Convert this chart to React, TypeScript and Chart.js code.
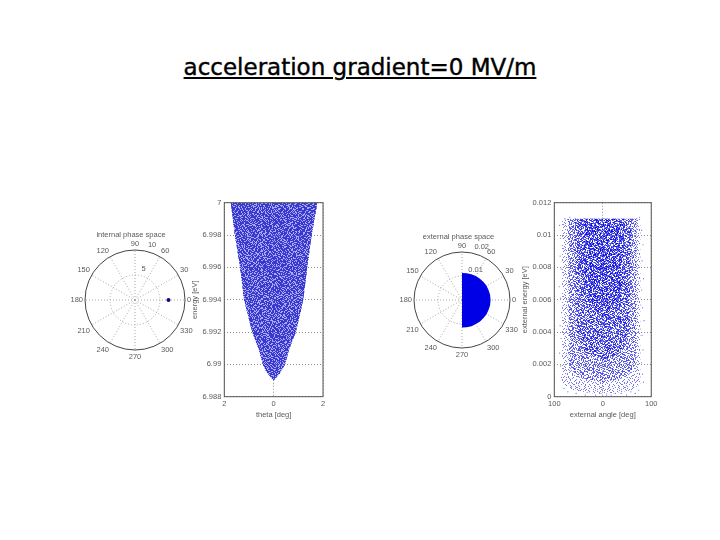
import { useEffect, useRef } from "react"
import { Chart, registerables } from "chart.js"

Chart.register(...registerables)

const FONT = "'Liberation Sans', Arial, sans-serif"

// polar plots, clockwise from the top
const internalAngles = ["90", "60", "30", "0", "330", "300", "270", "240", "210", "180", "150", "120"]
const internalEnergy = [null, null, null, 6.7, null, null, null, null, null, null, null, null]
const internalRadialTicks = [5, 10]

const externalAngles = [90, 80, 70, 60, 50, 40, 30, 20, 10, 0, 350, 340, 330, 320, 310, 300, 290, 280, 270, 260, 250, 240, 230, 220, 210, 200, 190, 180, 170, 160, 150, 140, 130, 120, 110, 100]
const externalEnergy = [0.0113, 0.0113, 0.0114, 0.0115, 0.0116, 0.0117, 0.0118, 0.0118, 0.0119, 0.0119, 0.0119, 0.0118, 0.0118, 0.0117, 0.0117, 0.0116, 0.0116, 0.0115, 0.0115, 0, 0, 0, 0, 0, 0, 0, 0, 0, 0, 0, 0, 0, 0, 0, 0, 0]
const externalRadialTicks = [0.01, 0.02]

// lower edge of the theta / energy cloud
const thetaEdge = [-1.74, -1.57, -1.36, -1.2, -0.87, -0.62, -0.44, -0.28, 0, 0.28, 0.46, 0.64, 0.9, 1.2, 1.36, 1.54, 1.77]
const energyEdge = [7, 6.998, 6.996, 6.994, 6.992, 6.991, 6.99, 6.9895, 6.989, 6.9895, 6.99, 6.991, 6.992, 6.994, 6.996, 6.998, 7]
const energyTicks = [6.988, 6.99, 6.992, 6.994, 6.996, 6.998, 7]
const energyTickLabels = ["6.988", "6.99", "6.992", "6.994", "6.996", "6.998", "7"]
const thetaTicks = [-2, 0, 2]
const thetaTickLabels = ["2", "0", "2"]

// lower edges of the density bands of the external cloud, all closed at the top
const CLOUD_TOP = 0.011
const sparseAngle = [-84, -84, -60, -20, 20, 60, 78, 78]
const sparseEnergy = [0.011, 0.0008, 0.0004, 0.0002, 0.0002, 0.0004, 0.0008, 0.011]
const thinAngle = [-72, -70, -50, 0, 50, 68, 70]
const thinEnergy = [0.011, 0.002, 0.0012, 0.0009, 0.0012, 0.002, 0.011]
const midAngle = [-58, -56, -40, 0, 40, 56, 60]
const midEnergy = [0.011, 0.0042, 0.0028, 0.0022, 0.0028, 0.0042, 0.011]
const denseAngle = [-40, -38, -20, 5, 30, 42, 44]
const denseEnergy = [0.011, 0.0072, 0.0056, 0.0046, 0.0056, 0.0072, 0.011]
// loose points just outside the bands
const strayAngle = [-89, -87, -88, -86, -90, -87, -85, -88, -86, -89, -87, -85, 80, 83, 81, 84, 80, 82, 85, 81, 83, 80, 82, 84, -80, -72, -64, -55, -47, -36, -28, -15, -6, 8, 17, 26, 38, 49, 58, 67, 74, -78, -68, 70, 76]
const strayEnergy = [0.0106, 0.0098, 0.0087, 0.0079, 0.0068, 0.0061, 0.0052, 0.0044, 0.0036, 0.0027, 0.0019, 0.0012, 0.0103, 0.0094, 0.0084, 0.0073, 0.0066, 0.0055, 0.0047, 0.0038, 0.0029, 0.0021, 0.0014, 0.0009, 0.0005, 0.0003, 0.0006, 0.0002, 0.0004, 0.0001, 0.0003, 0.0001, 0.0002, 0.0001, 0.0001, 0.0002, 0.0002, 0.0001, 0.0003, 0.0002, 0.0004, 0.011, 0.0111, 0.011, 0.0111]
const externalEnergyTicks = [0, 0.002, 0.004, 0.006, 0.008, 0.01, 0.012]
const externalEnergyLabels = ["0", "0.002", "0.004", "0.006", "0.008", "0.01", "0.012"]
const externalAngleTicks = [-100, 0, 100]
const externalAngleLabels = ["100", "0", "100"]

// stipple texture, a pixel is set when its digit is at or below the wanted density
const stippleRows = [
  "739146285037192846015372",
  "260873914562708341965028",
  "518402763981256097314860",
  "947135028674319562840713",
  "302869415720864193057246",
  "685210973346027581469302",
  "174956302818493670215984",
  "429637180560712948336157",
  "853041726993185024679310",
  "016782459331648207951543",
  "792365804176930452186027",
  "345918672042571369804216",
  "681024397568240813597749",
  "207593146819356724018635",
  "934760281405978136642081",
  "150832697341620589473926",
  "476219530867143926058314",
  "823605914782059341267590",
  "591348062136874205739168",
  "068971423950316782145083",
  "314527869204691853070642",
  "782046315698425017936251",
  "925183740362187469520837",
  "640792158473906231884175",
]

// different tile sizes on top of each other keep the repeat from showing
function stipple(density: number, color: string, w: number, h: number) {
  const tile = document.createElement("canvas")
  tile.width = w
  tile.height = h
  const g = tile.getContext("2d")!
  g.fillStyle = color
  for (let y = 0; y < h; y++) {
    for (let x = 0; x < w; x++) {
      if (Number(stippleRows[y][x]) <= density) g.fillRect(x, y, 1, 1)
    }
  }
  return g.createPattern(tile, "repeat")!
}

const tickFont = { family: FONT, size: 7.5 }
const GREY = "#5a5a5a"
const DOTS = "#8c8c8c"
const POLAR_DOTS = "#a6a6a6"

const boxPlugin = {
  id: "box",
  afterDatasetsDraw(chart: Chart) {
    const { left, top, width, height } = chart.chartArea
    const ctx = chart.ctx
    ctx.save()
    ctx.strokeStyle = "#555"
    ctx.lineWidth = 1
    ctx.strokeRect(left, top, width, height)
    ctx.restore()
  },
}

function toPoints(xs: number[], ys: number[]) {
  return xs.map((x, i) => ({ x, y: ys[i] }))
}

function cartesian(
  canvas: HTMLCanvasElement,
  datasets: any[],
  x: { min: number; max: number; ticks: number[]; labels: string[]; title: string },
  y: { min: number; max: number; ticks: number[]; labels: string[]; title: string; titlePad: number }
) {
  return new Chart(canvas, {
    type: "scatter",
    data: { datasets },
    plugins: [boxPlugin],
    options: {
      responsive: false,
      devicePixelRatio: 1,
      animation: false,
      layout: { autoPadding: false, padding: { top: 7.7, right: 7 } },
      plugins: { legend: { display: false }, tooltip: { enabled: false } },
      scales: {
        x: {
          type: "linear",
          min: x.min,
          max: x.max,
          afterBuildTicks: (s: any) => { s.ticks = x.ticks.map((value) => ({ value })) },
          afterFit: (s: any) => { s.height = 33.3 },
          grid: { color: DOTS, drawTicks: false },
          border: { display: false, dash: [1, 2] },
          ticks: {
            color: GREY, font: tickFont, padding: 2.5, maxRotation: 0, autoSkip: false,
            callback: (v: any) => x.labels[x.ticks.indexOf(v)],
          },
          title: { display: true, text: x.title, color: GREY, font: tickFont, padding: { top: 0, bottom: 11 } },
        },
        y: {
          type: "linear",
          min: y.min,
          max: y.max,
          afterBuildTicks: (s: any) => { s.ticks = y.ticks.map((value) => ({ value })) },
          afterFit: (s: any) => { s.width = 44.3 },
          grid: { color: DOTS, drawTicks: false },
          border: { display: false, dash: [1, 2] },
          ticks: {
            color: GREY, font: tickFont, padding: 3, autoSkip: false,
            callback: (v: any) => y.labels[y.ticks.indexOf(v)],
          },
          title: { display: true, text: y.title, color: GREY, font: tickFont, padding: { top: y.titlePad, bottom: 0 } },
        },
      },
    },
  })
}

function polar(
  canvas: HTMLCanvasElement,
  title: string,
  labels: string[],
  dataset: any,
  max: number,
  radialTicks: number[],
  every: number
) {
  const radialLabels = {
    id: "radialLabels",
    afterDraw(chart: any) {
      const r = chart.scales.r
      const ctx = chart.ctx
      ctx.save()
      ctx.fillStyle = GREY
      ctx.font = `7.5px ${FONT}`
      ctx.textAlign = "left"
      ctx.textBaseline = "middle"
      radialTicks.forEach((value) => {
        const d = r.getDistanceFromCenterForValue(value)
        const a = (75 * Math.PI) / 180
        ctx.fillText(String(value), r.xCenter + d * Math.cos(a), r.yCenter - d * Math.sin(a) - 7)
      })
      ctx.restore()
    },
  }
  return new Chart(canvas, {
    type: "radar",
    data: { labels, datasets: [dataset] },
    plugins: [radialLabels],
    options: {
      responsive: false,
      devicePixelRatio: 1,
      animation: false,
      plugins: {
        legend: { display: false },
        tooltip: { enabled: false },
        title: { display: true, text: title, color: GREY, font: { family: FONT, size: 7.5, weight: "normal" }, padding: { top: 2, bottom: 0 } },
      },
      scales: {
        r: {
          min: 0,
          max,
          afterBuildTicks: (s: any) => { s.ticks = [0, ...radialTicks].map((value) => ({ value })) },
          ticks: { display: false },
          grid: {
            circular: true,
            color: (c: any) => (c.tick?.value === max ? "#444" : POLAR_DOTS),
          },
          border: { dash: (c: any) => (c.tick?.value === max ? [] : [1, 2]) },
          angleLines: {
            color: POLAR_DOTS,
            borderDash: [1, 2],
            lineWidth: (c: any) => (c.index % every === 0 ? 1 : 0),
          },
          pointLabels: {
            color: GREY,
            font: tickFont,
            padding: 2,
            callback: (label: string, i: number) => (i % every === 0 ? label : ""),
          },
        },
      },
    },
  })
}

export default function App() {
  const internalRef = useRef<HTMLCanvasElement>(null)
  const energyRef = useRef<HTMLCanvasElement>(null)
  const externalRef = useRef<HTMLCanvasElement>(null)
  const angleRef = useRef<HTMLCanvasElement>(null)

  useEffect(() => {
    document.body.style.margin = "0"
    const line = { showLine: true, pointRadius: 0, borderWidth: 0 }
    const toTop = { target: { value: CLOUD_TOP } }

    const charts = [
      polar(
        internalRef.current!,
        "internal phase space",
        internalAngles,
        { data: internalEnergy, showLine: false, pointRadius: 2, pointBackgroundColor: "#0a0a78", pointBorderWidth: 0 },
        10,
        internalRadialTicks,
        1
      ),
      cartesian(
        energyRef.current!,
        [
          { ...line, data: toPoints(thetaEdge, energyEdge), fill: "end", backgroundColor: "rgba(100,100,235,0.55)" },
          { ...line, data: toPoints(thetaEdge, energyEdge), fill: "end", backgroundColor: stipple(3, "#0000b8", 24, 24) },
          { ...line, data: toPoints(thetaEdge, energyEdge), fill: "end", backgroundColor: stipple(3, "#0808ac", 17, 19) },
        ],
        { min: -2, max: 2, ticks: thetaTicks, labels: thetaTickLabels, title: "theta [deg]" },
        { min: 6.988, max: 7, ticks: energyTicks, labels: energyTickLabels, title: "energy [eV]", titlePad: 10 }
      ),
      polar(
        externalRef.current!,
        "external phase space",
        externalAngles.map(String),
        { data: externalEnergy, fill: true, backgroundColor: "#0000e6", borderWidth: 0, pointRadius: 0 },
        0.02,
        externalRadialTicks,
        3
      ),
      cartesian(
        angleRef.current!,
        [
          { ...line, data: toPoints(sparseAngle, sparseEnergy), fill: toTop, backgroundColor: stipple(1, "#7878ee", 24, 24) },
          { ...line, data: toPoints(thinAngle, thinEnergy), fill: toTop, backgroundColor: stipple(2, "#4b4be8", 19, 17) },
          { ...line, data: toPoints(midAngle, midEnergy), fill: toTop, backgroundColor: stipple(2, "#1e1ee0", 23, 21) },
          { ...line, data: toPoints(denseAngle, denseEnergy), fill: toTop, backgroundColor: stipple(2, "#0a0ad2", 17, 23) },
          { data: toPoints(strayAngle, strayEnergy), pointRadius: 0.6, borderWidth: 0, pointBackgroundColor: "#6464e8" },
        ],
        { min: -100, max: 100, ticks: externalAngleTicks, labels: externalAngleLabels, title: "external angle [deg]" },
        { min: 0, max: 0.012, ticks: externalEnergyTicks, labels: externalEnergyLabels, title: "external energy [eV]", titlePad: 10 }
      ),
    ]

    return () => charts.forEach((c) => c.destroy())
  }, [])

  const place = (left: number, top: number): React.CSSProperties => ({
    position: "absolute",
    left,
    top,
    filter: "blur(0.6px)",
  })

  return (
    <div style={{ position: "absolute", left: 0, top: 0, width: 720, height: 540, background: "#fff", overflow: "hidden" }}>
      <div
        style={{
          position: "absolute",
          top: 52,
          left: 0,
          width: 720,
          textAlign: "center",
          fontFamily: "'DejaVu Sans', sans-serif",
          fontSize: 23,
          lineHeight: "30px",
          color: "#000",
          textDecoration: "underline",
          WebkitTextStroke: "0.4px #000",
        }}
      >
        acceleration gradient=0 MV/m
      </div>
      <canvas ref={internalRef} width={134} height={134} style={place(64, 228)} />
      <canvas ref={energyRef} width={150} height={235} style={place(180, 195)} />
      <canvas ref={externalRef} width={129} height={129} style={place(394, 230)} />
      <canvas ref={angleRef} width={150} height={235} style={place(510, 195)} />
    </div>
  )
}
